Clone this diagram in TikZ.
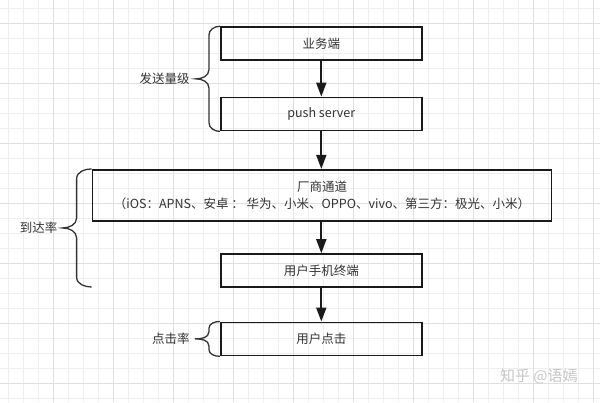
\documentclass[tikz,border=0pt]{standalone}
\usepackage{fontspec}
\setmainfont{Noto Sans CJK SC}
\usetikzlibrary{positioning,arrows.meta,calc}

\definecolor{inkgray}{HTML}{333333}
\definecolor{linegray}{HTML}{1A1A1A}
\definecolor{minorgrid}{HTML}{EEEEEE}
\definecolor{majorgrid}{HTML}{E0E0E0}

\tikzset{
  stage/.style={draw=linegray, line width=1.8pt, minimum width=201pt,
    minimum height=33pt, inner sep=0pt, text=inkgray, align=center},
  flow/.style={draw=linegray, line width=1.8pt, -{Triangle[length=14pt,width=10pt]}},
  bracket/.style={draw=inkgray, line width=1.3pt},
  tag/.style={text=inkgray, inner sep=0pt}
}

\begin{document}
\begin{tikzpicture}[x=1pt, y=-1pt, font=\fontsize{12.5}{17}\selectfont]
            \useasboundingbox (0,0) rectangle (600,402);
            \fill[white] (0,0) rectangle (600,402);

            % Grid
            \foreach \i in {0,...,39} {
                \draw[minorgrid, line width=0.8pt] (8.33+15*\i, 0) -- ++(0, 402);
            }
            \foreach \i in {0,...,26} {
                \draw[minorgrid, line width=0.8pt] (0, 8.33+15*\i) -- ++(600, 0);
            }
            \foreach \i in {0,...,9} {
                \draw[majorgrid, line width=0.8pt] (53.33+60*\i, 0) -- ++(0, 402);
            }
            \foreach \i in {0,...,6} {
                \draw[majorgrid, line width=0.8pt] (0, 23.33+60*\i) -- ++(600, 0);
            }

            % Stages
            \node(biz) [stage] at (321.3, 43.7) {业务端};
            \node(push) [stage, below=35.5pt of biz] {push server};
            \node(chan) [stage, minimum width=459pt, minimum height=51pt, below=37.5pt of push,
            xshift=0.7pt] {厂商通道\\（iOS：APNS、安卓 ： 华为、小米、OPPO、vivo、第三方：极光、小米）};
            \node(term) [stage, below=31.5pt of chan, xshift=-0.7pt] {用户手机终端};
            \node(click) [stage, below=33.5pt of term] {用户点击};

            % Draw Arrows
            \draw[flow] (biz) -- (push);
            \draw[flow] (push) -- (chan.north -| push);
            \draw[flow] (chan.south -| term) -- (term);
            \draw[flow] (term) -- (click);

            % Brackets
            \draw[bracket] (biz.north west) to[out=180, in=90] ++(-11, 9)
            -- ($(biz.north west)!.5!(push.south west) + (-11, -9)$) to[out=270, in=0] ++(-13, 9)
            coordinate(sendtip) to[out=0, in=90] ++(13, 9)
            -- ($(push.south west) + (-11, -9)$) to[out=270, in=180] (push.south west);

            \coordinate(chanend) at ($(chan.west |- term.south) + (0, -1)$);
            \draw[bracket] (chan.north west) to[out=180, in=90] ++(-15, 10)
            -- ($(chan.north west)!.5!(chanend) + (-15, -10)$) to[out=270, in=0] ++(-14, 10)
            coordinate(reachtip) to[out=0, in=90] ++(14, 10)
            -- ($(chanend) + (-15, -10)$) to[out=270, in=180] (chanend);

            \draw[bracket] (click.north west) to[out=180, in=90] ++(-11, 7)
            -- ($(click.west) + (-11, -7)$) to[out=270, in=0] ++(-14, 7)
            coordinate(clicktip) to[out=0, in=90] ++(14, 7)
            -- ($(click.south west) + (-11, -7)$) to[out=270, in=180] (click.south west);

            % Labels
            \node(sendlbl) [tag, left=6pt of sendtip] {发送量级};
            \node(reachlbl) [tag, left=5pt of reachtip] {到达率};
            \node(clicklbl) [tag, left=5pt of clicktip] {点击率};

            \node(zhihu) [text=gray!45, font=\fontsize{15}{18}\selectfont] at (538.8, 376.7) {知乎 @语嫣};

        \end{tikzpicture}
\end{document}
